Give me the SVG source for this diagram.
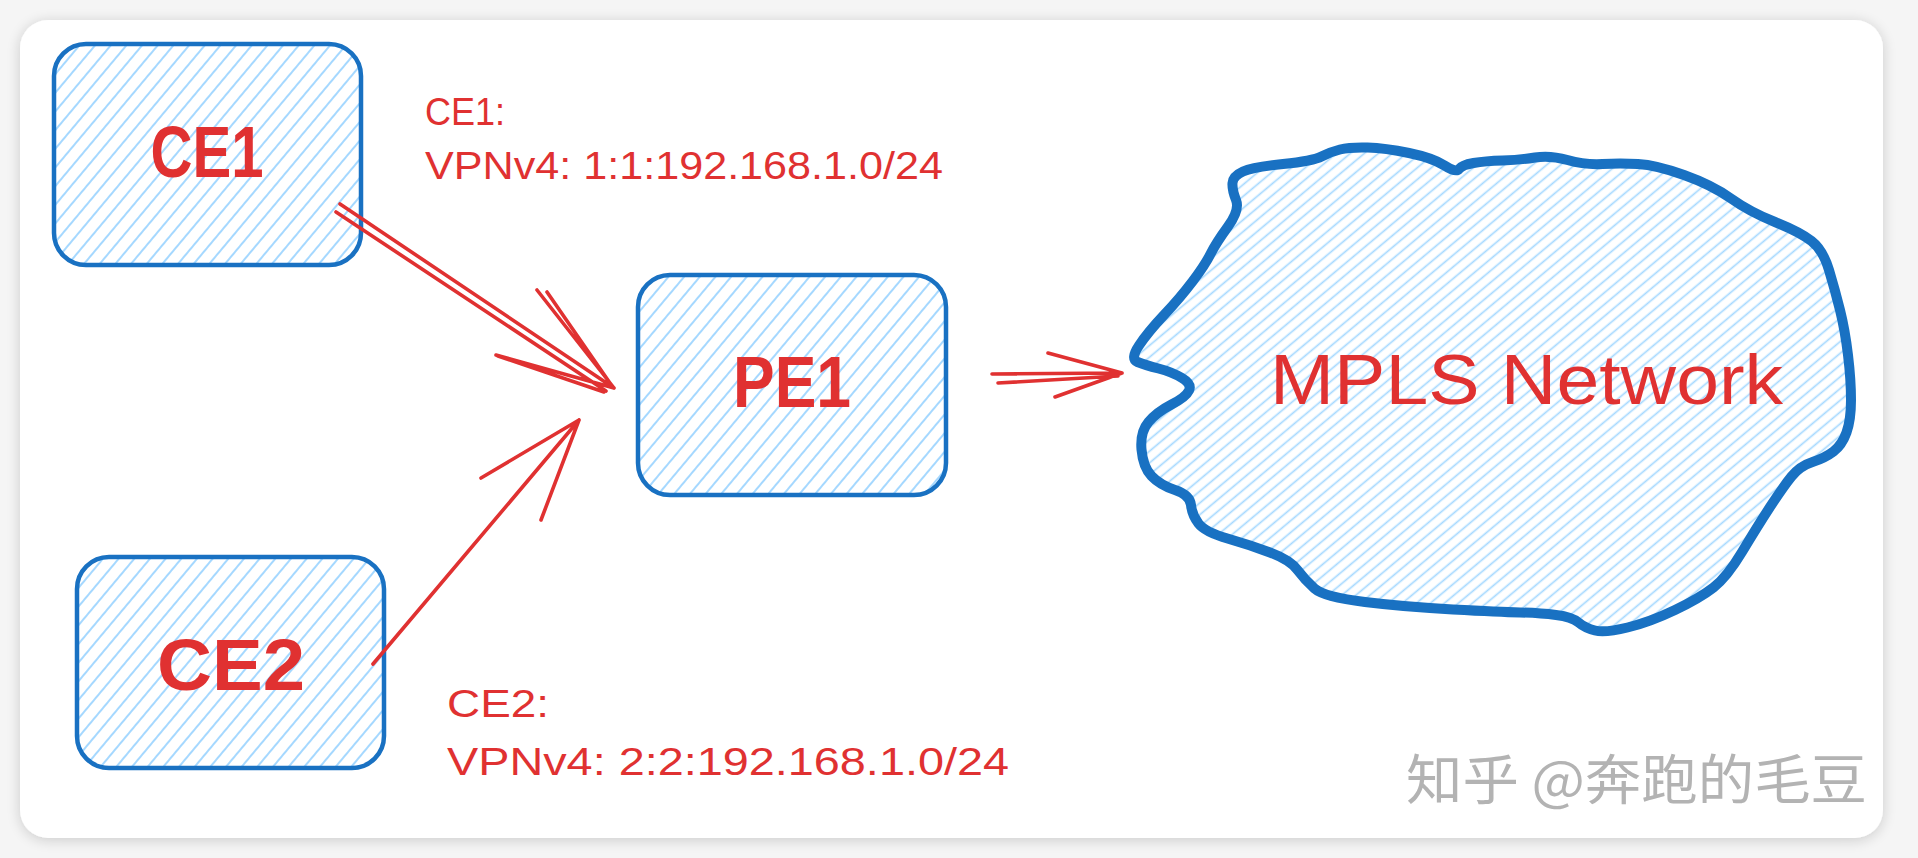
<svg xmlns="http://www.w3.org/2000/svg" width="1918" height="858" viewBox="0 0 1918 858">
<style>
.box{stroke:#1971c2;stroke-width:4.5;fill:url(#hatchBox)}
.lbl{font-family:"Liberation Sans",Arial,sans-serif;fill:#e03131}
.node{font-size:72px;text-anchor:middle;font-weight:bold}
.note{font-size:38px}
.arr{stroke:#e03131;stroke-width:3.6;fill:none;stroke-linecap:round;stroke-linejoin:round}
.wm{font-family:"Noto Sans CJK SC","Noto Sans",sans-serif;font-size:54px;fill:#b3b3b3}
</style>
<defs>
<pattern id="hatchBox" patternUnits="userSpaceOnUse" width="12" height="12" patternTransform="rotate(40)">
<line x1="6" y1="0" x2="6" y2="12" stroke="#a5d8ff" stroke-width="2"/>
</pattern>
<pattern id="hatchCloud" patternUnits="userSpaceOnUse" width="9" height="9" patternTransform="rotate(50)">
<line x1="4.5" y1="0" x2="4.5" y2="9" stroke="#a5d8ff" stroke-width="1.7"/>
</pattern>
<filter id="shadow" x="-5%" y="-5%" width="110%" height="110%">
<feGaussianBlur in="SourceAlpha" stdDeviation="7"/>
<feOffset dx="0" dy="2"/>
<feComponentTransfer><feFuncA type="linear" slope="0.18"/></feComponentTransfer>
<feMerge><feMergeNode/><feMergeNode in="SourceGraphic"/></feMerge>
</filter>
</defs>
<rect x="0" y="0" width="1918" height="858" fill="#f5f5f5"/>
<rect x="20" y="20" width="1863" height="818" rx="28" fill="#ffffff" filter="url(#shadow)"/>

<g id="CE1">
<rect class="box" x="54" y="44" width="307" height="221" rx="32"/>
<text class="lbl node" x="207" y="177" textLength="113" lengthAdjust="spacingAndGlyphs">CE1</text>
</g>
<g id="PE1">
<rect class="box" x="638" y="275" width="308" height="220" rx="32"/>
<text class="lbl node" x="792" y="407" textLength="118" lengthAdjust="spacingAndGlyphs">PE1</text>
</g>
<g id="CE2">
<rect class="box" x="77" y="557" width="307" height="211" rx="32"/>
<text class="lbl node" x="231" y="690" textLength="148" lengthAdjust="spacingAndGlyphs">CE2</text>
</g>
<g id="MPLS">
<path fill="url(#hatchCloud)" stroke="#1971c2" stroke-width="10" stroke-linejoin="round" d="M1137.5,362 Q1130,359 1139,345.5 Q1148,332 1164,315 Q1180,298 1192.5,281.5 Q1205,265 1210.5,254 Q1216,243 1228,226.5 Q1240,210 1236,200 Q1232,190 1232.5,183 Q1233,176 1243,171.5 Q1253,167 1283,164 Q1313,161 1321.5,156.5 Q1330,152 1340,149.5 Q1350,147 1367.5,147.5 Q1385,148 1409,153 Q1433,158 1444.5,165.5 Q1456,173 1459,169 Q1462,165 1473.5,163 Q1485,161 1502.5,160.5 Q1520,160 1535,157.5 Q1550,155 1567.5,160 Q1585,165 1602.5,164 Q1620,163 1638,164 Q1656,165 1684,175 Q1712,185 1731,198.5 Q1750,212 1775,222 Q1800,232 1811.5,241 Q1823,250 1829,270 Q1835,290 1840,310 Q1845,330 1848,355 Q1851,380 1851,400 Q1851,420 1846.5,432.5 Q1842,445 1833.5,451.5 Q1825,458 1812.5,462 Q1800,466 1791.5,476.5 Q1783,487 1770,507 Q1757,527 1742,552 Q1727,577 1713.5,587.5 Q1700,598 1675,610 Q1650,622 1627.5,627.5 Q1605,633 1595,630.5 Q1585,628 1578.5,622.5 Q1572,617 1556,615 Q1540,613 1520,612.5 Q1500,612 1453,609.5 Q1406,607 1365,602 Q1324,597 1314.5,588.5 Q1305,580 1297.5,570 Q1290,560 1270,552.5 Q1250,545 1227.5,538.5 Q1205,532 1198.5,523.5 Q1192,515 1191,505 Q1190,495 1175,490 Q1160,485 1151.5,476 Q1143,467 1141.5,449.5 Q1140,432 1148.5,422 Q1157,412 1171.5,404.5 Q1186,397 1189,390.5 Q1192,384 1182,378 Q1172,372 1158.5,368.5 Q1145,365 1137.5,362 Z"/>
<text class="lbl" x="1270" y="404" font-size="70" textLength="513" lengthAdjust="spacingAndGlyphs">MPLS Network</text>
</g>

<g id="labels">
<text class="lbl note" x="425" y="125" textLength="80" lengthAdjust="spacingAndGlyphs">CE1:</text>
<text class="lbl note" x="425" y="179" textLength="518" lengthAdjust="spacingAndGlyphs">VPNv4: 1:1:192.168.1.0/24</text>
<text class="lbl note" x="447" y="717" textLength="102" lengthAdjust="spacingAndGlyphs">CE2:</text>
<text class="lbl note" x="447" y="775" textLength="562" lengthAdjust="spacingAndGlyphs">VPNv4: 2:2:192.168.1.0/24</text>
</g>

<g id="connectors">
<path class="arr" d="M340,204 L614,388 M336,212 L606,391 M537,290 L614,388 M547,292 L612,386 M496,355 L614,388 M498,356 L604,392"/>
<path class="arr" d="M373,664 L579,420 M541,520 L579,420 M481,478 L579,420"/>
<path class="arr" d="M992,374 L1122,373 M998,383 L1118,376 M1048,353 L1122,373 M1055,397 L1122,373"/>
</g>

<text class="wm" x="1406" y="800" textLength="461" lengthAdjust="spacingAndGlyphs">知乎 @奔跑的毛豆</text>
</svg>
